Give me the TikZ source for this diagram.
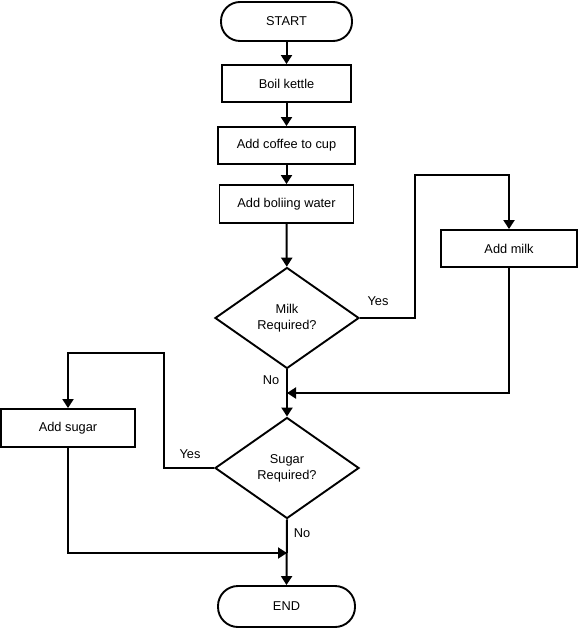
\documentclass[tikz,border=0pt]{standalone}
\usepackage{fontspec}
\setmainfont{Liberation Sans}
\usetikzlibrary{shapes.geometric,arrows.meta}
\begin{document}
\begin{tikzpicture}[x=1pt,y=-1pt,
  every node/.style={font=\fontsize{12.8}{16}\selectfont},
  base/.style={draw,line width=1.9pt,inner sep=0pt},
  proc/.style={base,rectangle,minimum height=37pt},
  term/.style={base,rectangle,rounded corners=19pt,minimum height=39pt},
  dec/.style={base,diamond,aspect=1.43,minimum width=144pt,minimum height=101pt,align=center},
  conn/.style={line width=2pt},
  arr/.style={conn,-{Triangle[length=9pt,width=11pt]}},
  lbl/.style={inner sep=0pt}]
\useasboundingbox (0,0) rectangle (579,628);
\node[term,minimum width=131pt] (start) at (286.5,21.5) {START};
\node[proc,minimum width=129pt] (boil) at (286.5,83.5) {Boil kettle};
\node[proc,minimum width=137pt] (coffee) at (286.5,145.5) {Add coffee to cup};
\node[proc,minimum width=134pt,minimum height=38pt] (water) at (286.5,204) {Add boliing water};
\node[dec] (milk) at (287,318) {Milk\\Required?};
\node[proc,minimum width=136pt] (addmilk) at (509,248.5) {Add milk};
\node[dec] (sugar) at (287,468) {Sugar\\Required?};
\node[proc,minimum width=134pt,minimum height=38pt] (addsugar) at (68,428) {Add sugar};
\node[term,minimum width=137pt,minimum height=41pt,rounded corners=20pt] (end) at (286.5,606.5) {END};
\coordinate (m1) at (287,393);
\coordinate (m2) at (287,553);
\draw[arr] (start) -- (boil);
\draw[arr] (boil) -- (coffee);
\draw[arr] (coffee) -- (water);
\draw[arr] (water) -- (milk);
\draw[arr] (milk.east) -- (415,318) -- (415,175) -| (addmilk.north);
\draw[arr] (addmilk.south) |- (m1);
\draw[arr] (milk.south) -- (sugar.north);
\draw[arr] (sugar.west) -- (164,468) -- (164,353) -| (addsugar.north);
\draw[arr] (addsugar.south) |- (m2);
\draw[arr] (sugar.south) -- (end.north);
\node[lbl] (yes1) at (378,301) {Yes};
\node[lbl] (no1) at (271,380) {No};
\node[lbl] (yes2) at (190,454) {Yes};
\node[lbl] (no2) at (302,533) {No};
\end{tikzpicture}
\end{document}
